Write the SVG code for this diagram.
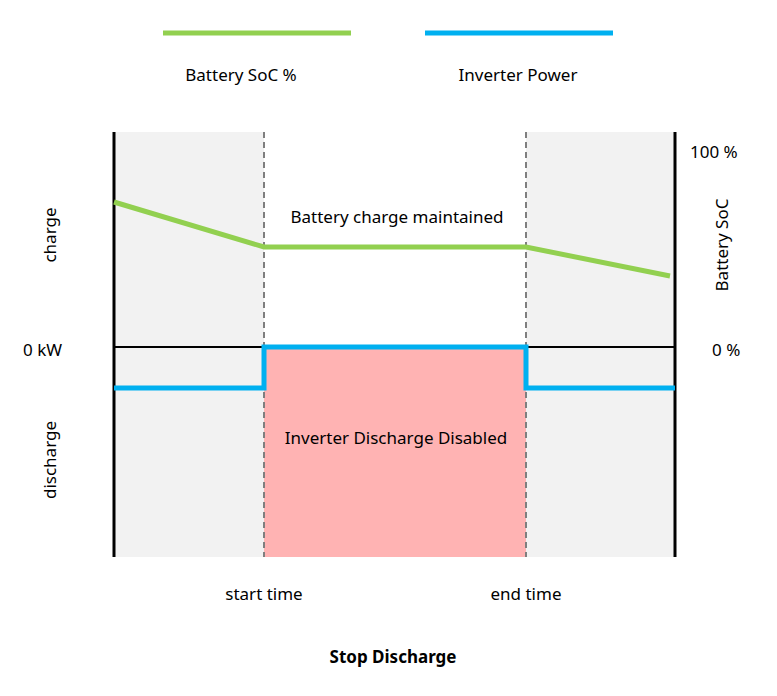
<svg xmlns="http://www.w3.org/2000/svg" width="777" height="696" viewBox="0 0 777 696">
<style>
text{font-family:"Noto Sans","Open Sans",sans-serif;font-size:17px;fill:#000}
.m{text-anchor:middle}
.dash{stroke:#7f7f7f;stroke-width:2;stroke-dasharray:6,4}
.ax{stroke:#000;stroke-width:3}
</style>
<rect width="777" height="696" fill="#fff"/>
<rect x="114" y="132" width="150" height="425" fill="#f2f2f2"/>
<rect x="526" y="132" width="149" height="425" fill="#f2f2f2"/>
<rect x="264" y="347" width="262" height="210" fill="#ffb3b3"/>
<line x1="114" y1="347" x2="675" y2="347" stroke="#000" stroke-width="2"/>
<line class="ax" x1="114" y1="132" x2="114" y2="557"/>
<line class="ax" x1="675" y1="132" x2="675" y2="557"/>
<line class="dash" x1="264" y1="132" x2="264" y2="557"/>
<line class="dash" x1="526" y1="132" x2="526" y2="557"/>
<polyline points="114,202 264,247 526,247 670,276" fill="none" stroke="#92d050" stroke-width="5"/>
<polyline points="114,388 264,388 264,347 526,347 526,388 675,388" fill="none" stroke="#00b0f0" stroke-width="5"/>
<line x1="163" y1="33" x2="351" y2="33" stroke="#92d050" stroke-width="5"/>
<line x1="425" y1="33" x2="613" y2="33" stroke="#00b0f0" stroke-width="5"/>
<text class="m" x="241" y="81">Battery SoC %</text>
<text class="m" x="518" y="81">Inverter Power</text>
<text x="690" y="158">100 %</text>
<text class="m" transform="translate(728,245) rotate(-90)">Battery SoC</text>
<text x="712" y="356">0 %</text>
<text x="23" y="356">0 kW</text>
<text class="m" transform="translate(56,235) rotate(-90)">charge</text>
<text class="m" transform="translate(56,460) rotate(-90)">discharge</text>
<text class="m" x="397" y="223">Battery charge maintained</text>
<text class="m" x="396" y="444">Inverter Discharge Disabled</text>
<text class="m" x="264" y="600">start time</text>
<text class="m" x="526" y="600">end time</text>
<text class="m" x="393" y="663" font-weight="bold">Stop Discharge</text>
</svg>
